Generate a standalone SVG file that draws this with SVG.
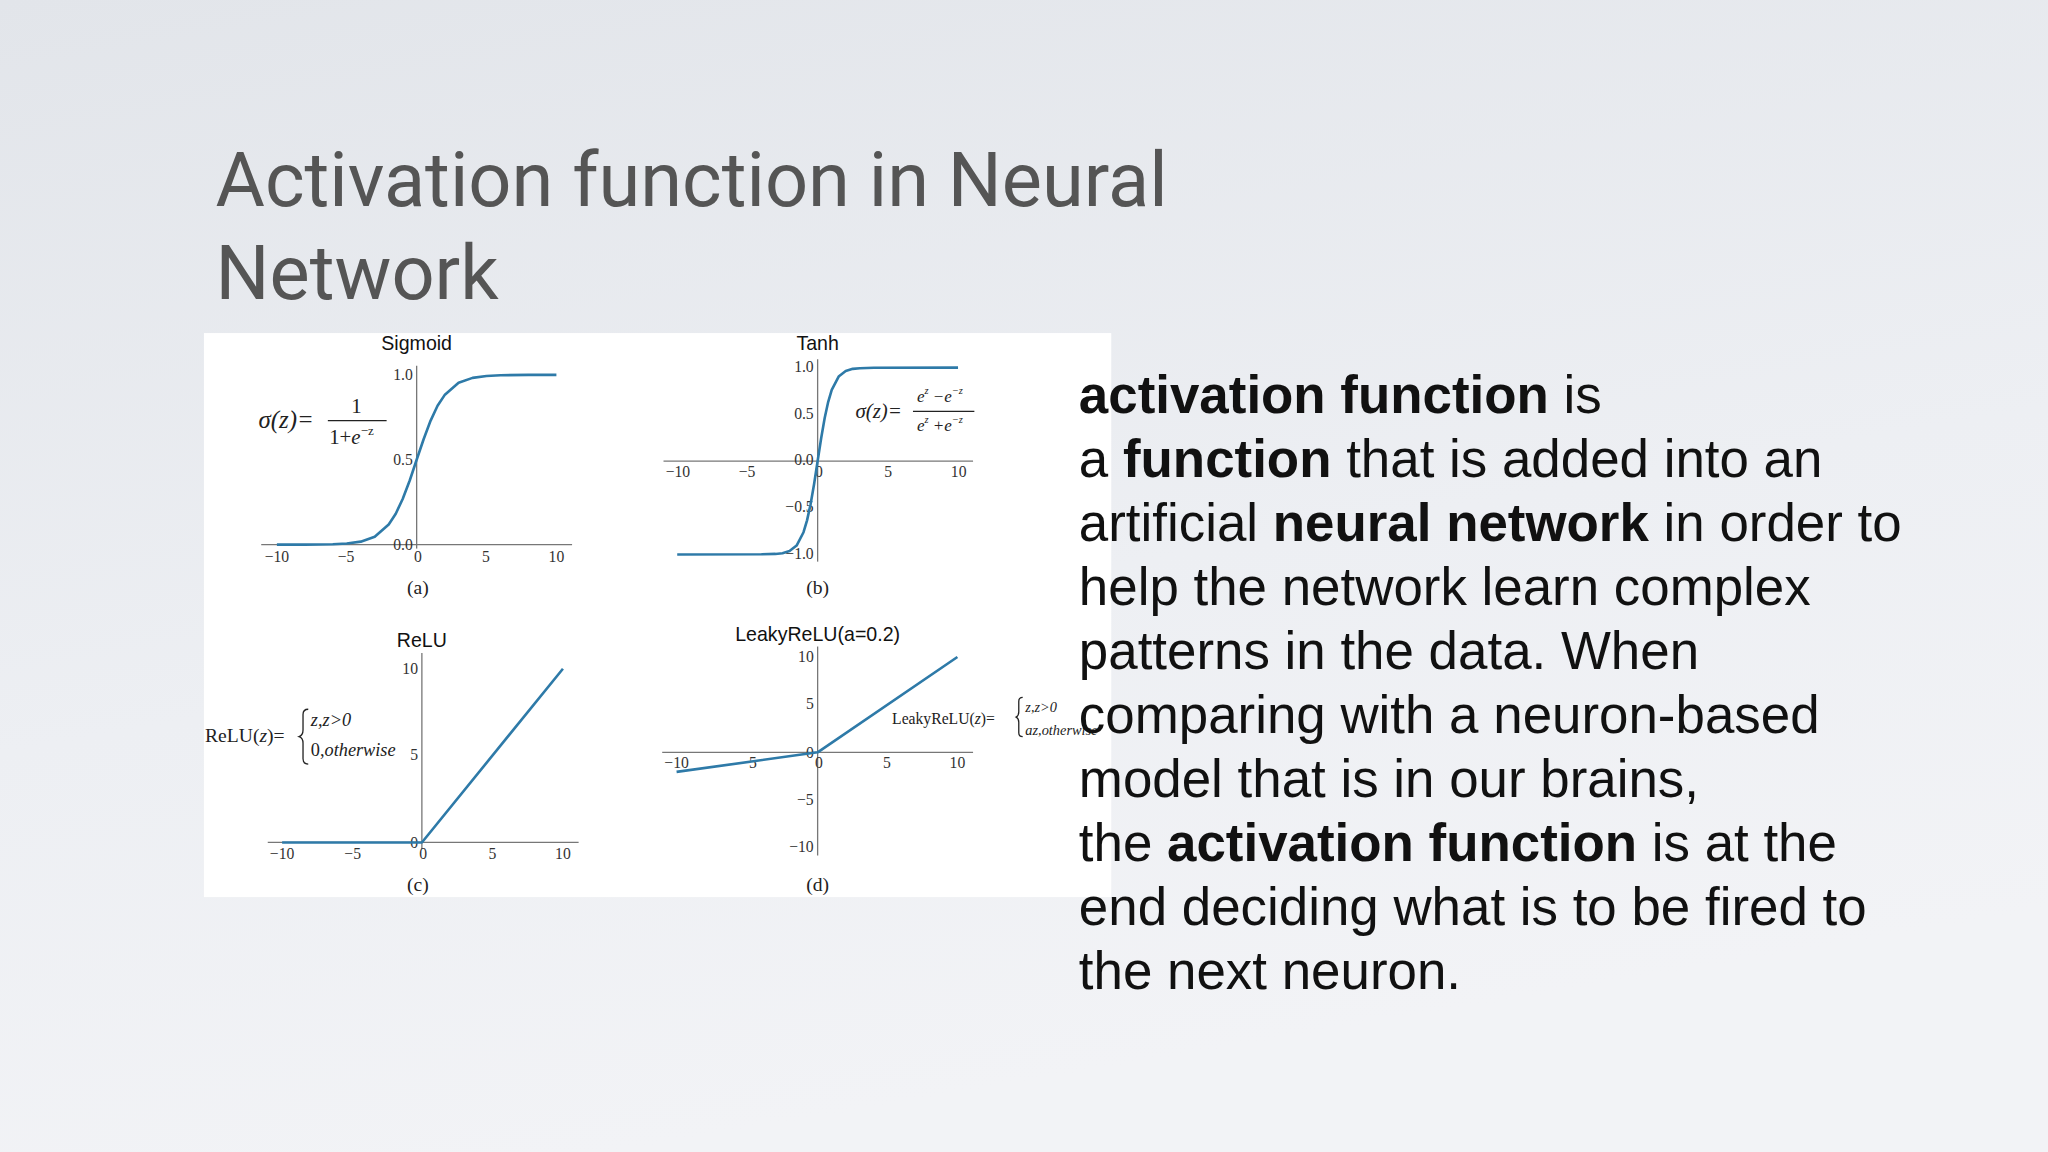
<svg xmlns="http://www.w3.org/2000/svg" width="2048" height="1152" viewBox="0 0 2048 1152">
<defs>
<linearGradient id="bg" x1="0" y1="0" x2="0.3" y2="1">
<stop offset="0" stop-color="#e2e5ea"/><stop offset="0.6" stop-color="#edeff3"/><stop offset="1" stop-color="#f2f3f6"/>
</linearGradient>
<clipPath id="panel"><rect x="156" y="255" width="695" height="432"/></clipPath>
<style>
.ax{stroke:#777;stroke-width:1;fill:none}
.cv{stroke:#2e7aa8;stroke-width:2;fill:none;stroke-linejoin:round}
.tk{font-family:"Liberation Serif",serif;font-size:12px;fill:#333;text-anchor:middle}
.yt{font-family:"Liberation Serif",serif;font-size:12px;fill:#333;text-anchor:end}
.pt{font-family:"Liberation Sans",sans-serif;font-size:15px;fill:#111;text-anchor:middle}
.cap{font-family:"Liberation Serif",serif;font-size:15px;fill:#222;text-anchor:middle}
.fm{font-family:"Liberation Serif",serif;fill:#222}
.title{font-family:Roboto,"Liberation Sans",sans-serif;font-size:58px;fill:#555}
.body{font-family:"Liberation Sans",Arial,sans-serif;font-size:40.5px;fill:#111}
.b{font-weight:bold}
</style>
</defs>
<rect width="2048" height="1152" fill="url(#bg)"/>
<g transform="scale(1.306122)">
<g id="title">
<text class="title" x="165" y="158">Activation function in Neural</text>
<text class="title" x="165" y="229">Network</text>
</g>
<g id="figure" clip-path="url(#panel)">
<rect x="156" y="255" width="695" height="432" fill="#fff"/>
<g id="sigmoid">
<text class="pt" x="319" y="268">Sigmoid</text>
<line class="ax" x1="200" y1="417" x2="438" y2="417"/>
<line class="ax" x1="319" y1="280" x2="319" y2="420"/>
<text class="tk" x="212" y="430">−10</text><text class="tk" x="265" y="430">−5</text><text class="tk" x="320" y="430">0</text><text class="tk" x="372" y="430">5</text><text class="tk" x="426" y="430">10</text>
<text class="yt" x="316" y="291">1.0</text><text class="yt" x="316" y="356">0.5</text><text class="yt" x="316" y="421">0.0</text>
<polyline class="cv" points="212,417 233.4,417 254.8,416.7 265.5,416.1 276.2,414.7 286.9,410.9 297.6,401.5 303,393.3 308.3,382 313.7,367.9 319,352 324.4,336.1 329.7,322 335,310.7 340.4,302.5 351.1,293.1 361.8,289.3 372.5,287.9 383.2,287.3 404.6,287 426,287"/>
<text class="fm" x="198" y="328" font-size="19" font-style="italic">σ(z)=</text>
<text class="fm" x="273" y="316" font-size="16" text-anchor="middle">1</text>
<line x1="251" y1="322" x2="296" y2="322" stroke="#222" stroke-width="1"/>
<text class="fm" x="252" y="340" font-size="16">1+<tspan font-style="italic">e</tspan><tspan font-size="10" dy="-7">−z</tspan></text>
<text class="cap" x="320" y="455">(a)</text>
</g>
<g id="tanh">
<text class="pt" x="626" y="268">Tanh</text>
<line class="ax" x1="508" y1="353" x2="745" y2="353"/>
<line class="ax" x1="626" y1="275" x2="626" y2="430"/>
<text class="tk" x="519" y="365">−10</text><text class="tk" x="572" y="365">−5</text><text class="tk" x="627" y="365">0</text><text class="tk" x="680" y="365">5</text><text class="tk" x="734" y="365">10</text>
<text class="yt" x="623" y="285">1.0</text><text class="yt" x="623" y="321">0.5</text><text class="yt" x="623" y="356">0.0</text><text class="yt" x="623" y="392">−0.5</text><text class="yt" x="623" y="428">−1.0</text>
<polyline class="cv" points="518.5,424.5 583,424.4 593.7,424.1 599.1,423.6 604.5,421.9 609.9,417.7 615.2,407.5 617.9,398.4 620.6,386 623.3,370.5 626,353 628.7,335.5 631.4,320 634.1,307.6 636.8,298.5 642.1,288.3 647.5,284.1 652.9,282.4 658.3,281.9 669,281.6 733.5,281.5"/>
<text class="fm" x="655" y="320" font-size="16" font-style="italic">σ(z)=</text>
<text class="fm" x="702" y="308" font-size="13" font-style="italic">e<tspan font-size="8" dy="-6">z</tspan><tspan dy="6"> −e</tspan><tspan font-size="8" dy="-6">−z</tspan></text>
<line x1="699" y1="315" x2="746" y2="315" stroke="#222" stroke-width="1"/>
<text class="fm" x="702" y="330" font-size="13" font-style="italic">e<tspan font-size="8" dy="-6">z</tspan><tspan dy="6"> +e</tspan><tspan font-size="8" dy="-6">−z</tspan></text>
<text class="cap" x="626" y="455">(b)</text>
</g>
<g id="relu">
<text class="pt" x="323" y="495">ReLU</text>
<line class="ax" x1="205" y1="645" x2="443" y2="645"/>
<line class="ax" x1="323" y1="500" x2="323" y2="650"/>
<text class="tk" x="216" y="658">−10</text><text class="tk" x="270" y="658">−5</text><text class="tk" x="324" y="658">0</text><text class="tk" x="377" y="658">5</text><text class="tk" x="431" y="658">10</text>
<text class="yt" x="320" y="516">10</text><text class="yt" x="320" y="582">5</text><text class="yt" x="320" y="649">0</text>
<polyline class="cv" points="216,645 323,645 431,512"/>
<text class="fm" x="157" y="568" font-size="15">ReLU(<tspan font-style="italic">z</tspan>)=</text>
<path d="M236,543 q-4,0 -4,4 v12 q0,4 -3,5 q3,1 3,5 v12 q0,4 4,4" fill="none" stroke="#222" stroke-width="1"/>
<text class="fm" x="238" y="556" font-size="14" font-style="italic">z,z&gt;0</text>
<text class="fm" x="238" y="579" font-size="14">0,<tspan font-style="italic">otherwise</tspan></text>
<text class="cap" x="320" y="682">(c)</text>
</g>
<g id="leaky">
<text class="pt" x="626" y="491">LeakyReLU(a=0.2)</text>
<line class="ax" x1="507" y1="576" x2="745" y2="576"/>
<line class="ax" x1="626" y1="495" x2="626" y2="655"/>
<text class="tk" x="518" y="588">−10</text><text class="tk" x="573" y="588">−5</text><text class="tk" x="627" y="588">0</text><text class="tk" x="679" y="588">5</text><text class="tk" x="733" y="588">10</text>
<text class="yt" x="623" y="507">10</text><text class="yt" x="623" y="543">5</text><text class="yt" x="623" y="580">0</text><text class="yt" x="623" y="616">−5</text><text class="yt" x="623" y="652">−10</text>
<polyline class="cv" points="518,591 626,576 733,503"/>
<text class="fm" x="683" y="554" font-size="12">LeakyReLU(<tspan font-style="italic">z</tspan>)=</text>
<path d="M783,534 q-3,0 -3,3 v8 q0,3 -2,4 q2,1 2,4 v8 q0,3 3,3" fill="none" stroke="#222" stroke-width="1"/>
<text class="fm" x="785" y="545" font-size="11" font-style="italic">z,z&gt;0</text>
<text class="fm" x="785" y="563" font-size="11" font-style="italic">az,otherwise</text>
<text class="cap" x="626" y="682">(d)</text>
</g>
</g>
<g id="body">
<text class="body" x="826" y="316"><tspan class="b">activation function</tspan> is</text>
<text class="body" x="826" y="365">a <tspan class="b">function</tspan> that is added into an</text>
<text class="body" x="826" y="414">artificial <tspan class="b">neural network</tspan> in order to</text>
<text class="body" x="826" y="463">help the network learn complex</text>
<text class="body" x="826" y="512">patterns in the data. When</text>
<text class="body" x="826" y="561">comparing with a neuron-based</text>
<text class="body" x="826" y="610">model that is in our brains,</text>
<text class="body" x="826" y="659">the <tspan class="b">activation function</tspan> is at the</text>
<text class="body" x="826" y="708">end deciding what is to be fired to</text>
<text class="body" x="826" y="757">the next neuron.</text>
</g>
</g>
</svg>
